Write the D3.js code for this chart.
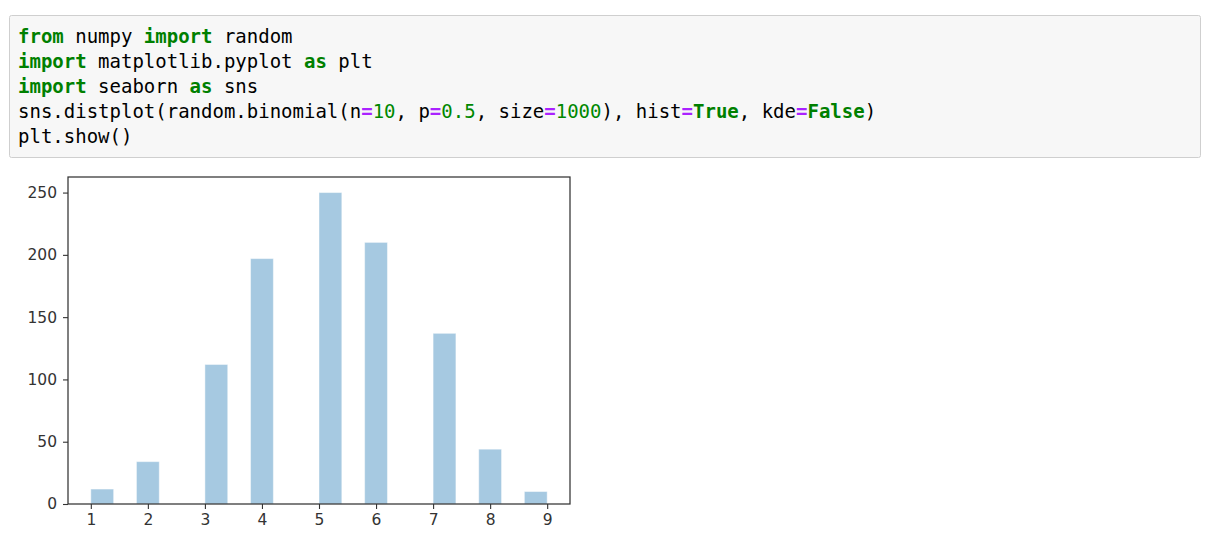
<!DOCTYPE html>
<html>
<head>
<meta charset="utf-8">
<script src="https://cdn.jsdelivr.net/npm/d3@7"></script>
<style>
  html, body { margin: 0; padding: 0; background: #fff; }
  svg { display: block; }
  .code text { font-family: 'DejaVu Sans Mono', 'Liberation Mono', monospace; font-size: 19px; white-space: pre; }
</style>
</head>
<body>
<div id="app"></div>
<script>
'use strict'

// histogram values
const categories = [1, 2, 3, 4, 5, 6, 7, 8, 9]
const binStarts = [1, 1.8, 3.0, 3.8, 5.0, 5.8, 7.0, 7.8, 8.6]
const binWidth = 0.4
const counts = [12, 34, 112, 197, 250, 210, 137, 44, 10]
const yTicks = [0, 50, 100, 150, 200, 250]

// code cell, split in [text, kind] tokens
const codeLines = [
  [['from', 'kw'], [' numpy ', ''], ['import', 'kw'], [' random', '']],
  [['import', 'kw'], [' matplotlib.pyplot ', ''], ['as', 'kw'], [' plt', '']],
  [['import', 'kw'], [' seaborn ', ''], ['as', 'kw'], [' sns', '']],
  [['sns.distplot(random.binomial(n', ''], ['=', 'op'], ['10', 'num'], [', p', ''], ['=', 'op'], ['0.5', 'num'],
   [', size', ''], ['=', 'op'], ['1000', 'num'], ['), hist', ''], ['=', 'op'], ['True', 'kw'],
   [', kde', ''], ['=', 'op'], ['False', 'kw'], [')', '']],
  [['plt.show()', '']]
]

const setWidth = 1211
const setHeight = 542

const plot = { left: 68, right: 570, top: 177, bottom: 504 }

const tokenStyle = {
  kw: { fill: '#008000', weight: 'bold' },
  num: { fill: '#008800', weight: 'normal' },
  op: { fill: '#aa22ff', weight: 'bold' },
  '': { fill: '#000', weight: 'normal' }
}

const svg = d3.select('#app')
  .append('svg')
  .attr('width', setWidth)
  .attr('height', setHeight)

// code cell box
const code = svg.append('g').classed('code', true)

code.append('rect')
  .attr('x', 9.5)
  .attr('y', 15.5)
  .attr('width', 1191)
  .attr('height', 142)
  .attr('rx', 2)
  .attr('fill', '#f7f7f7')
  .attr('stroke', '#cfcfcf')

code.selectAll('text')
  .data(codeLines)
  .enter()
  .append('text')
  .attr('x', 18)
  .attr('y', (d, i) => 42.7 + i * 25)
  .selectAll('tspan')
  .data(d => d)
  .enter()
  .append('tspan')
  .attr('fill', d => tokenStyle[d[1]].fill)
  .attr('font-weight', d => tokenStyle[d[1]].weight)
  .text(d => d[0])

// histogram
const scaleX = d3.scaleLinear()
  .domain([categories[0] - binWidth, categories[categories.length - 1] + binWidth])
  .range([plot.left, plot.right])

const scaleY = d3.scaleLinear()
  .domain([0, d3.max(counts) * 1.05])
  .range([plot.bottom, plot.top])

svg.append('g')
  .selectAll('rect')
  .data(counts)
  .enter()
  .append('rect')
  .attr('x', (d, i) => scaleX(binStarts[i]))
  .attr('width', scaleX(binStarts[0] + binWidth) - scaleX(binStarts[0]))
  .attr('y', d => scaleY(d))
  .attr('height', d => scaleY(0) - scaleY(d))
  .attr('fill', '#a6c9e1')
  .attr('stroke', 'rgba(255,255,255,0.45)')
  .attr('stroke-width', 1)

// frame
svg.append('rect')
  .attr('x', plot.left)
  .attr('y', plot.top)
  .attr('width', plot.right - plot.left)
  .attr('height', plot.bottom - plot.top)
  .attr('fill', 'none')
  .attr('stroke', '#333')
  .attr('stroke-width', 1.25)

svg.append('g')
  .classed('axis', true)
  .attr('transform', `translate(0,${plot.bottom})`)
  .call(d3.axisBottom(scaleX).tickValues(categories).tickSizeOuter(0).tickSize(5).tickPadding(5))

svg.append('g')
  .classed('axis', true)
  .attr('transform', `translate(${plot.left},0)`)
  .call(d3.axisLeft(scaleY).tickValues(yTicks).tickSizeOuter(0).tickSize(5).tickPadding(6))

svg.selectAll('.axis .domain').remove()
svg.selectAll('.axis .tick line')
  .attr('stroke', '#333')
  .attr('stroke-width', 1.1)
svg.selectAll('.axis .tick text')
  .attr('font-family', "'DejaVu Sans', sans-serif")
  .attr('font-size', 15.5)
  .attr('fill', '#333')
</script>
</body>
</html>
